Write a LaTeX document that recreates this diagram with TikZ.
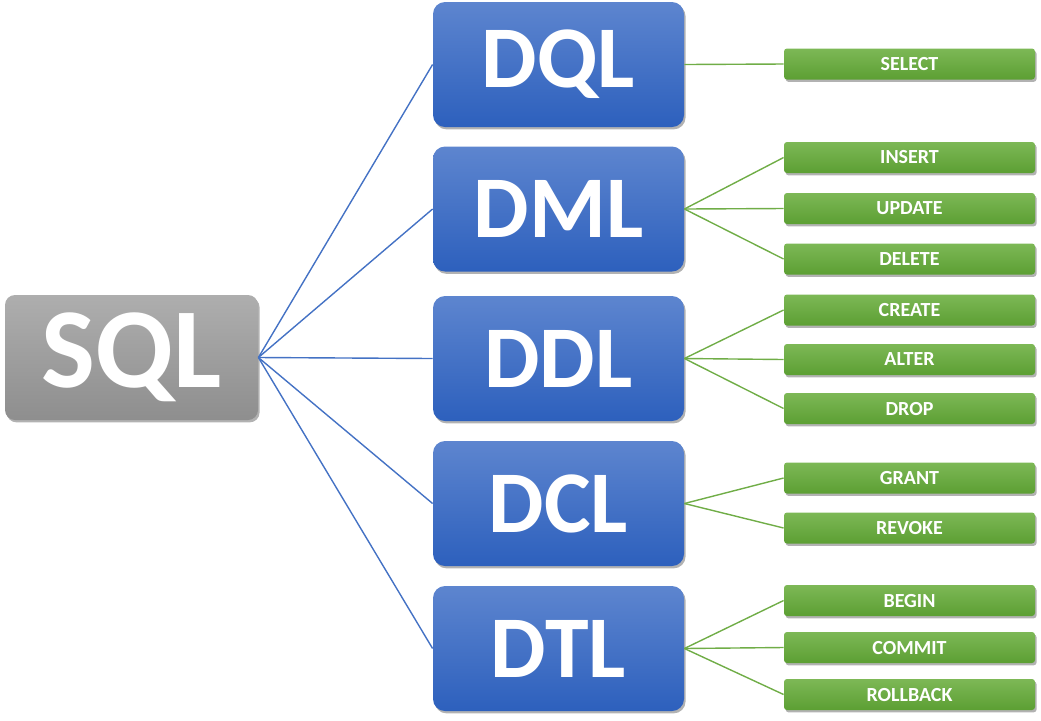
\documentclass[tikz,border=0pt]{standalone}
\usepackage{fontspec}
\setmainfont{Carlito}
\usepackage{xcolor}
\usetikzlibrary{shapes,arrows,positioning,calc,shadows}

\definecolor{sqltop}{HTML}{AEAEAE}
\definecolor{sqlbot}{HTML}{8E8E8E}
\definecolor{langtop}{HTML}{5D85CF}
\definecolor{langbot}{HTML}{2D60BD}
\definecolor{cmdtop}{HTML}{7DB856}
\definecolor{cmdbot}{HTML}{5C9F33}
\definecolor{bluelink}{HTML}{4472C4}
\definecolor{greenlink}{HTML}{70AD47}

\tikzset{
  boxshadow/.style={drop shadow={shadow xshift=0.8pt,shadow yshift=-1.2pt,opacity=0.3,fill=black}},
  rootbox/.style={rounded corners=5pt, top color=sqltop, bottom color=sqlbot, boxshadow,
    minimum width=126.5pt, minimum height=62.5pt, inner sep=0pt, text=white,
    font=\fontsize{57}{57}\selectfont\bfseries},
  langbox/.style={rounded corners=6pt, top color=langtop, bottom color=langbot, boxshadow,
    minimum width=125.5pt, minimum height=62.5pt, inner sep=0pt, text=white,
    font=\fontsize{44}{44}\selectfont\bfseries},
  cmdbox/.style={rounded corners=1.5pt, top color=cmdtop, bottom color=cmdbot, boxshadow,
    minimum width=125.5pt, minimum height=15.5pt, inner sep=0pt, text=white,
    font=\fontsize{10}{10}\selectfont\bfseries},
  bluewire/.style={draw=bluelink, line width=0.7pt},
  greenwire/.style={draw=greenlink, line width=0.7pt}
}

\begin{document}
\begin{tikzpicture}[x=0.5pt,y=-0.5pt]
    \useasboundingbox (0,0) rectangle (1041,720);

    % root
    \node[rootbox] (sql) at (131.5,357.5) {SQL};

    % languages
    \node[langbox] (dql) at (558.5,64.5) {DQL};
    \node[langbox] (dml) at (558.5,209) {DML};
    \node[langbox] (ddl) at (558.5,358.5) {DDL};
    \node[langbox] (dcl) at (558.5,503.5) {DCL};
    \node[langbox] (dtl) at (558.5,648.5) {DTL};

    % commands
    \node[cmdbox] (select) at (909.5,64) {SELECT};
    \node[cmdbox] (insert) at (909.5,157.5) {INSERT};
    \node[cmdbox] (update) at (909.5,208.5) {UPDATE};
    \node[cmdbox] (delete) at (909.5,259) {DELETE};
    \node[cmdbox] (create) at (909.5,310) {CREATE};
    \node[cmdbox] (alter) at (909.5,359.5) {ALTER};
    \node[cmdbox] (drop) at (909.5,408.5) {DROP};
    \node[cmdbox] (grant) at (909.5,478) {GRANT};
    \node[cmdbox] (revoke) at (909.5,528) {REVOKE};
    \node[cmdbox] (begin) at (909.5,600.5) {BEGIN};
    \node[cmdbox] (commit) at (909.5,647.5) {COMMIT};
    \node[cmdbox] (rollback) at (909.5,694.5) {ROLLBACK};

    % links
    \foreach \l in {dql,dml,ddl,dcl,dtl}
        \draw[bluewire] (sql.east) -- (\l.west);
    \draw[greenwire] (dql.east) -- (select.west);
    \foreach \c in {insert,update,delete}
        \draw[greenwire] (dml.east) -- (\c.west);
    \foreach \c in {create,alter,drop}
        \draw[greenwire] (ddl.east) -- (\c.west);
    \foreach \c in {grant,revoke}
        \draw[greenwire] (dcl.east) -- (\c.west);
    \foreach \c in {begin,commit,rollback}
        \draw[greenwire] (dtl.east) -- (\c.west);
\end{tikzpicture}
\end{document}
